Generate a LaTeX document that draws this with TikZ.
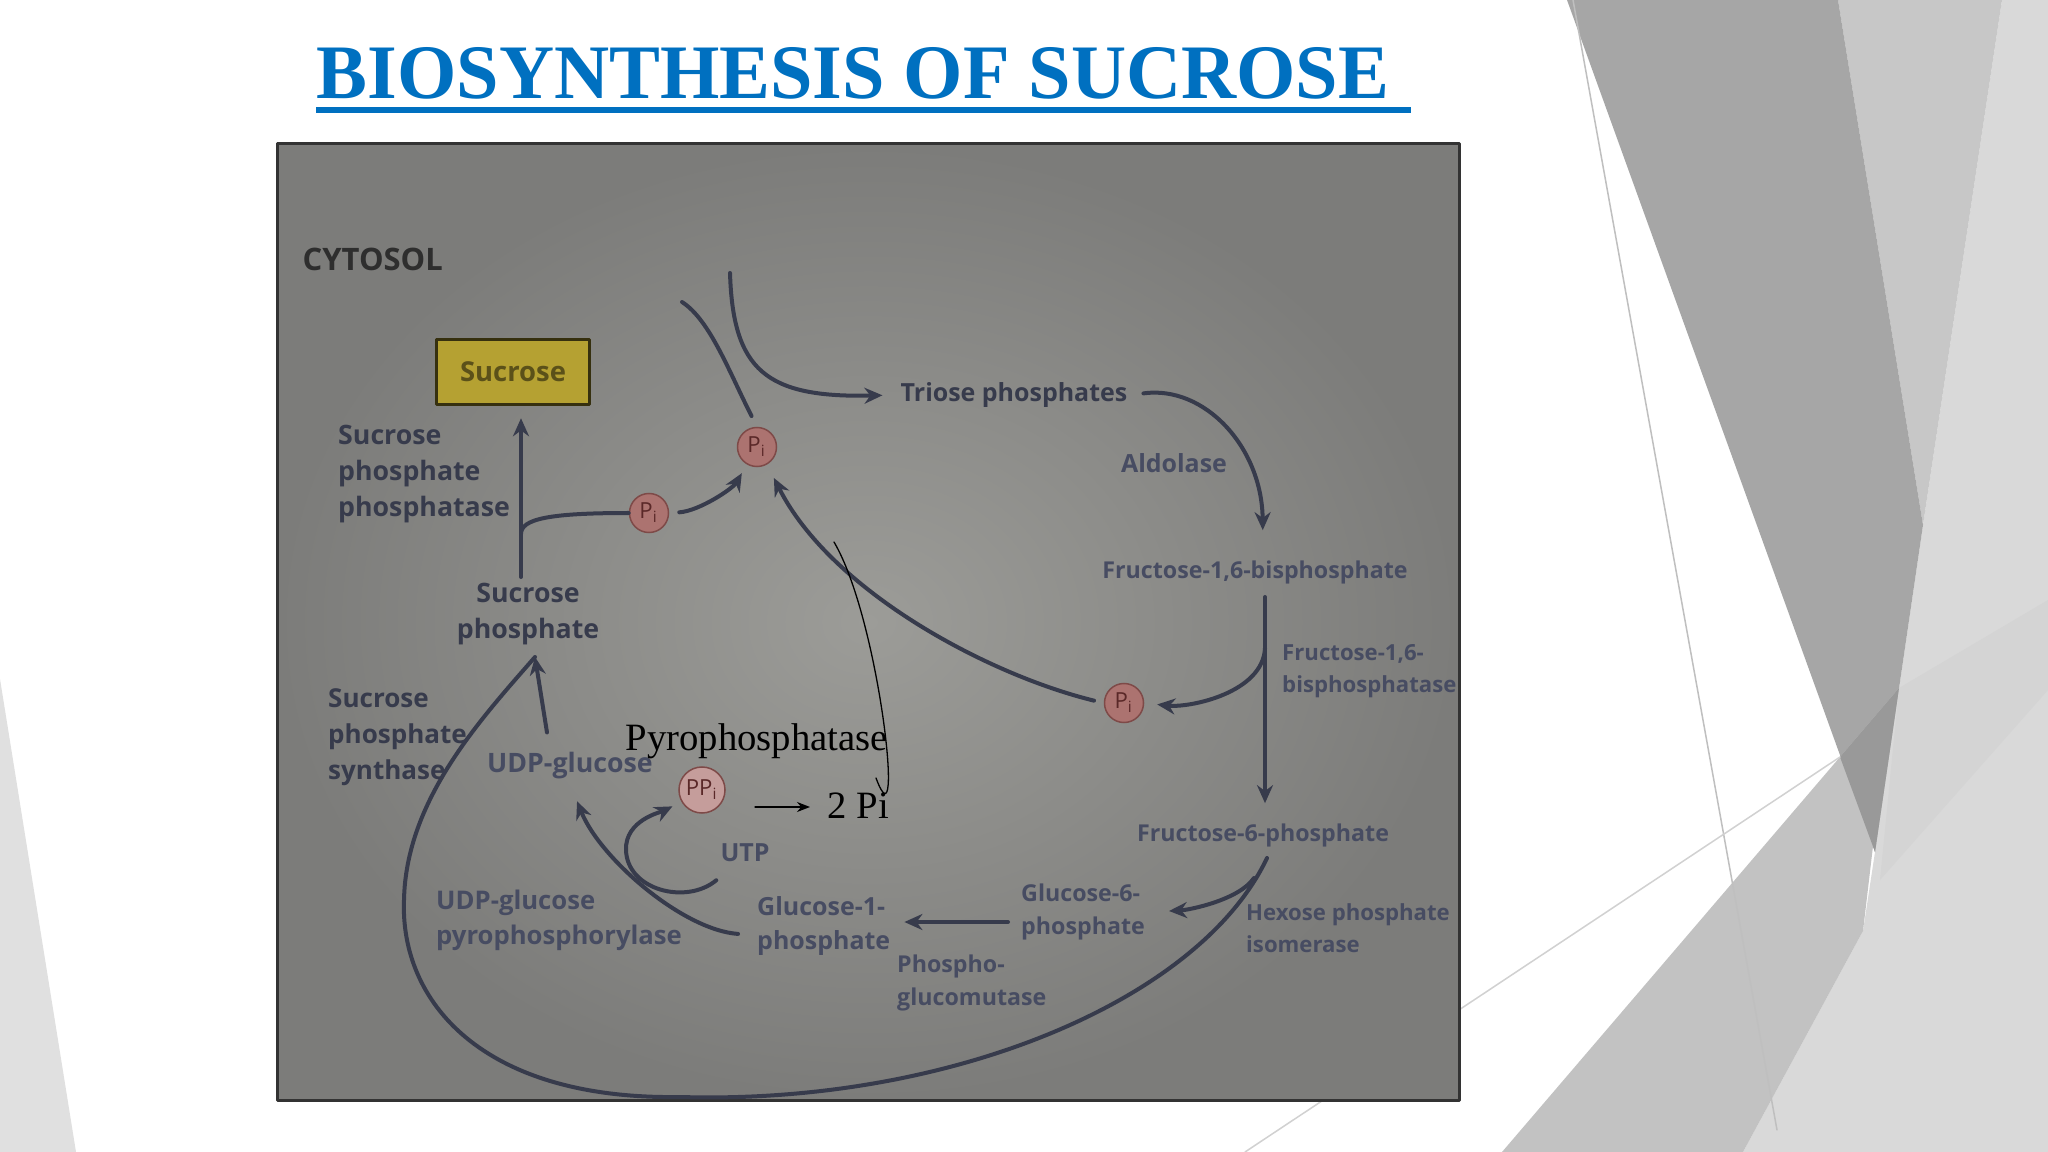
\documentclass[tikz,border=0pt]{standalone}
\usepackage{fontspec}
\setmainfont{Liberation Serif}
\newfontfamily\sugfont{Open Sans}
\usetikzlibrary{arrows.meta,calc,positioning}
\definecolor{titleblue}{HTML}{0070C0}
\definecolor{inkslate}{HTML}{373B4C}
\definecolor{inklight}{HTML}{474C62}
\definecolor{pifill}{HTML}{AC7370}
\definecolor{piedge}{HTML}{7E4A48}
\definecolor{pitext}{HTML}{5A2828}
\definecolor{boxgold}{HTML}{B5A132}
\definecolor{photolight}{HTML}{9C9C98}
\definecolor{photodark}{HTML}{7C7C7A}
\tikzset{
  every picture/.append style={line cap=round,line join=round},
  sug flow/.style={draw=inkslate,line width=0.4mm,-{Stealth[length=1.8mm,width=1.6mm]}},
  sug line/.style={draw=inkslate,line width=0.4mm},
  sug label/.style={font=\sugfont\bfseries\fontsize{6.6}{9.2}\selectfont,text=inklight,inner sep=1pt,align=left},
  sug big/.style={sug label,text=inkslate,font=\sugfont\bfseries\fontsize{7.6}{10.3}\selectfont},
  sug mid/.style={sug label,font=\sugfont\bfseries\fontsize{7.1}{9.4}\selectfont},
  sug small/.style={sug label,font=\sugfont\bfseries\fontsize{6.3}{9.2}\selectfont},
  sug pi/.style={circle,draw=piedge,fill=pifill,line width=0.15mm,minimum size=3.9mm,inner sep=0pt,text=pitext,font=\sugfont\fontsize{6.3}{6}\selectfont},
  sug note/.style={font=\fontsize{11}{13}\selectfont,inner sep=0pt},
  sug thin/.style={black,line width=0.13mm},
  facet line/.style={line width=0.15mm}
}

\begin{document}
\begin{tikzpicture}[x=0.01cm,y=-0.01cm]
  \useasboundingbox (0,0) rectangle (2048,1152);
  \fill[white] (0,0) rectangle (2048,1152);

  % slide decoration
  \fill[black!12] (0,679) -- (76,1152) -- (0,1152) -- cycle;
  \fill[black!15] (2002,0) -- (2048,0) -- (2048,1152) -- (1743,1152) -- (1863,931) -- (1875,852) -- (1923,525) -- cycle;
  \fill[black!22] (1838,0) -- (2002,0) -- (1923,525) -- cycle;
  \fill[black!35] (1567,0) -- (1838,0) -- (1923,525) -- (1875,852) -- cycle;
  \fill[black!17] (1899,688) -- (2048,600) -- (2048,690) -- (1880,880) -- cycle;
  \fill[black!24] (1502,1152) -- (1840,757) -- (1899,688) -- (1873,846) -- (1863,931) -- (1743,1152) -- cycle;
  \fill[black!40] (1840,757) -- (1899,688) -- (1875,852) -- cycle;
  \draw[facet line,black!25] (1573,0) -- (1777,1130);
  \draw[facet line,black!18] (1245,1152) -- (1840,757);

  % title
  \node[anchor=north west,inner sep=0pt,text=titleblue] (title) at (316,47)
    {\resizebox{10.72cm}{0.51cm}{\bfseries BIOSYNTHESIS OF SUCROSE}};
  \fill[titleblue] (316,107) rectangle (1411,113);

  % photo
  \shadedraw[inner color=photolight,outer color=photodark,draw=black!80,line width=0.3mm]
    (277,144) rectangle (1459,1100);

  \node[anchor=west,inner sep=0pt,text=black!82,font=\sugfont\bfseries\fontsize{8.8}{10}\selectfont] (cyto) at (302,259) {CYTOSOL};
  \node[draw=black!70!boxgold,fill=boxgold,line width=0.35mm,minimum width=15.3mm,minimum height=6.5mm,
    text=black!50!boxgold,font=\sugfont\bfseries\fontsize{7.8}{8}\selectfont] (sucrose) at (513,372) {Sucrose};

  \node[sug big,anchor=west] (spp) at (334,474) {Sucrose\\phosphate\\phosphatase};
  \node[sug big,align=center] (sp) at (528,614) {Sucrose\\phosphate};
  \node[sug big,anchor=west,font=\sugfont\bfseries\fontsize{7.4}{10.3}\selectfont] (sps) at (324,737) {Sucrose\\phosphate\\synthase};
  \node[sug big,text=inklight] (udpg) at (570,766) {UDP-glucose};
  \node[sug big,text=inklight,anchor=west,font=\sugfont\bfseries\fontsize{7.3}{10}\selectfont] (ugpp) at (432,920) {UDP-glucose\\pyrophosphorylase};
  \node[sug mid,anchor=west] (g1p) at (753,926) {Glucose-1-\\phosphate};
  \node[sug label,anchor=west] (g6p) at (1017,912) {Glucose-6-\\phosphate};
  \node[sug label,anchor=west] (pgm) at (893,983) {Phospho-\\glucomutase};
  \node[sug small,anchor=west] (hpi) at (1242,928) {Hexose phosphate\\isomerase};
  \node[sug label] (f6p) at (1263,835) {Fructose-6-phosphate};
  \node[sug small,anchor=west] (fbpase) at (1278,671) {Fructose-1,6-\\bisphosphatase};
  \node[sug label] (fbp) at (1255,572) {Fructose-1,6-bisphosphate};
  \node[sug mid] (ald) at (1174,463) {Aldolase};
  \node[sug mid,text=inkslate] (tp) at (1014,395) {Triose phosphates};
  \node[sug mid] (utp) at (745,853) {UTP};

  \foreach \name/\x/\y in {pia/649/513,pib/757/447,pic/1124/703}
    \node[sug pi] (\name) at (\x,\y) {P\textsubscript{i}};
  \node[sug pi,minimum size=4.6mm,fill=pifill!70!white] (ppi) at (702,790) {PP\textsubscript{i}};

  \node[sug note,anchor=base west] (pyro) at (625,750) {Pyrophosphatase};
  \node[sug note,anchor=base west] (twopi) at (827,818) {2 Pi};

  \coordinate (spTop) at (521,577);
  \coordinate (spIn) at (535,657);
  \coordinate (brA) at (521,534);
  \coordinate (tlA) at (682,302);
  \coordinate (tlB) at (730,273);
  \coordinate (fbpDn) at (1265,597);
  \coordinate (brB) at (1265,648);
  \coordinate (loopA) at (1267,858);
  \coordinate (brC) at (1254,878);
  \coordinate (annA) at (834,542);
  \coordinate (annB) at (876,778);
  \coordinate (ppa) at (755,807);

  % connectors
  \draw[sug flow,shorten >=1.2mm] (spTop) -- (spTop |- sucrose.south);
  \draw[sug line] (brA) .. controls +(0,-15) and +(-80,0) .. (pia.west);
  \draw[sug flow,shorten <=1mm,shorten >=1mm] (pia.east) .. controls +(30,-2) and +(-14,24) .. (pib.240);
  \draw[sug line,shorten >=1.2mm] (tlA) .. controls +(28,18) and +(-28,-55) .. (pib.north);
  \draw[sug flow,shorten >=1.4mm] (tlB) .. controls +(3,97) and +(-131,3) .. (tp.west);
  \draw[sug flow,shorten <=1.2mm,shorten >=2.6mm] (tp.east) .. controls +(73,-10) and +(-1,-109) .. ([xshift=0.8mm]fbp.north);
  \draw[sug flow,shorten >=1.6mm] (fbpDn) -- (fbpDn |- f6p.north);
  \draw[sug flow,shorten >=1.3mm] (brB) .. controls +(-2,45) and +(45,5) .. (pic.east);
  \draw[sug flow,shorten <=1mm,shorten >=1.5mm] (pic.west) .. controls +(-115,-28) and +(64,127) .. (pib.300);
  \draw[sug line] (loopA) .. controls (1200,1000) and (950,1105) .. (680,1097)
    .. controls (480,1100) and (400,1000) .. (404,900) .. controls (406,800) and (480,720) .. (spIn);
  \draw[sug flow,shorten >=2mm] (brC) .. controls +(-15,22) and +(40,-2) .. (g6p.east);
  \draw[sug flow,shorten <=0.9mm,shorten >=1mm] ([yshift=-1mm]g6p.west) -- ([yshift=-1mm]g6p.west -| g1p.east);
  \draw[sug flow,shorten <=1.5mm,shorten >=1.9mm] ([yshift=-0.9mm]g1p.west) .. controls +(-70,-5) and +(30,75) .. (udpg.south);
  \draw[sug flow,shorten >=1mm] ([yshift=-1.4mm]utp.south west) .. controls +(-30,25) and +(1,40) .. (626,850)
    .. controls +(-1,-30) and +(-20,10) .. (ppi.210);
  \draw[sug flow] ([xshift=-2.3mm,yshift=1.6mm]udpg.north) -- (spIn);
  \draw[sug thin] (annA) .. controls +(46,78) and +(29,78) .. (annB);
  \draw[sug thin,-{Stealth[length=1.3mm,width=1mm]},shorten >=1.7mm] (ppa) -- (ppa -| twopi.west);
\end{tikzpicture}
\end{document}
